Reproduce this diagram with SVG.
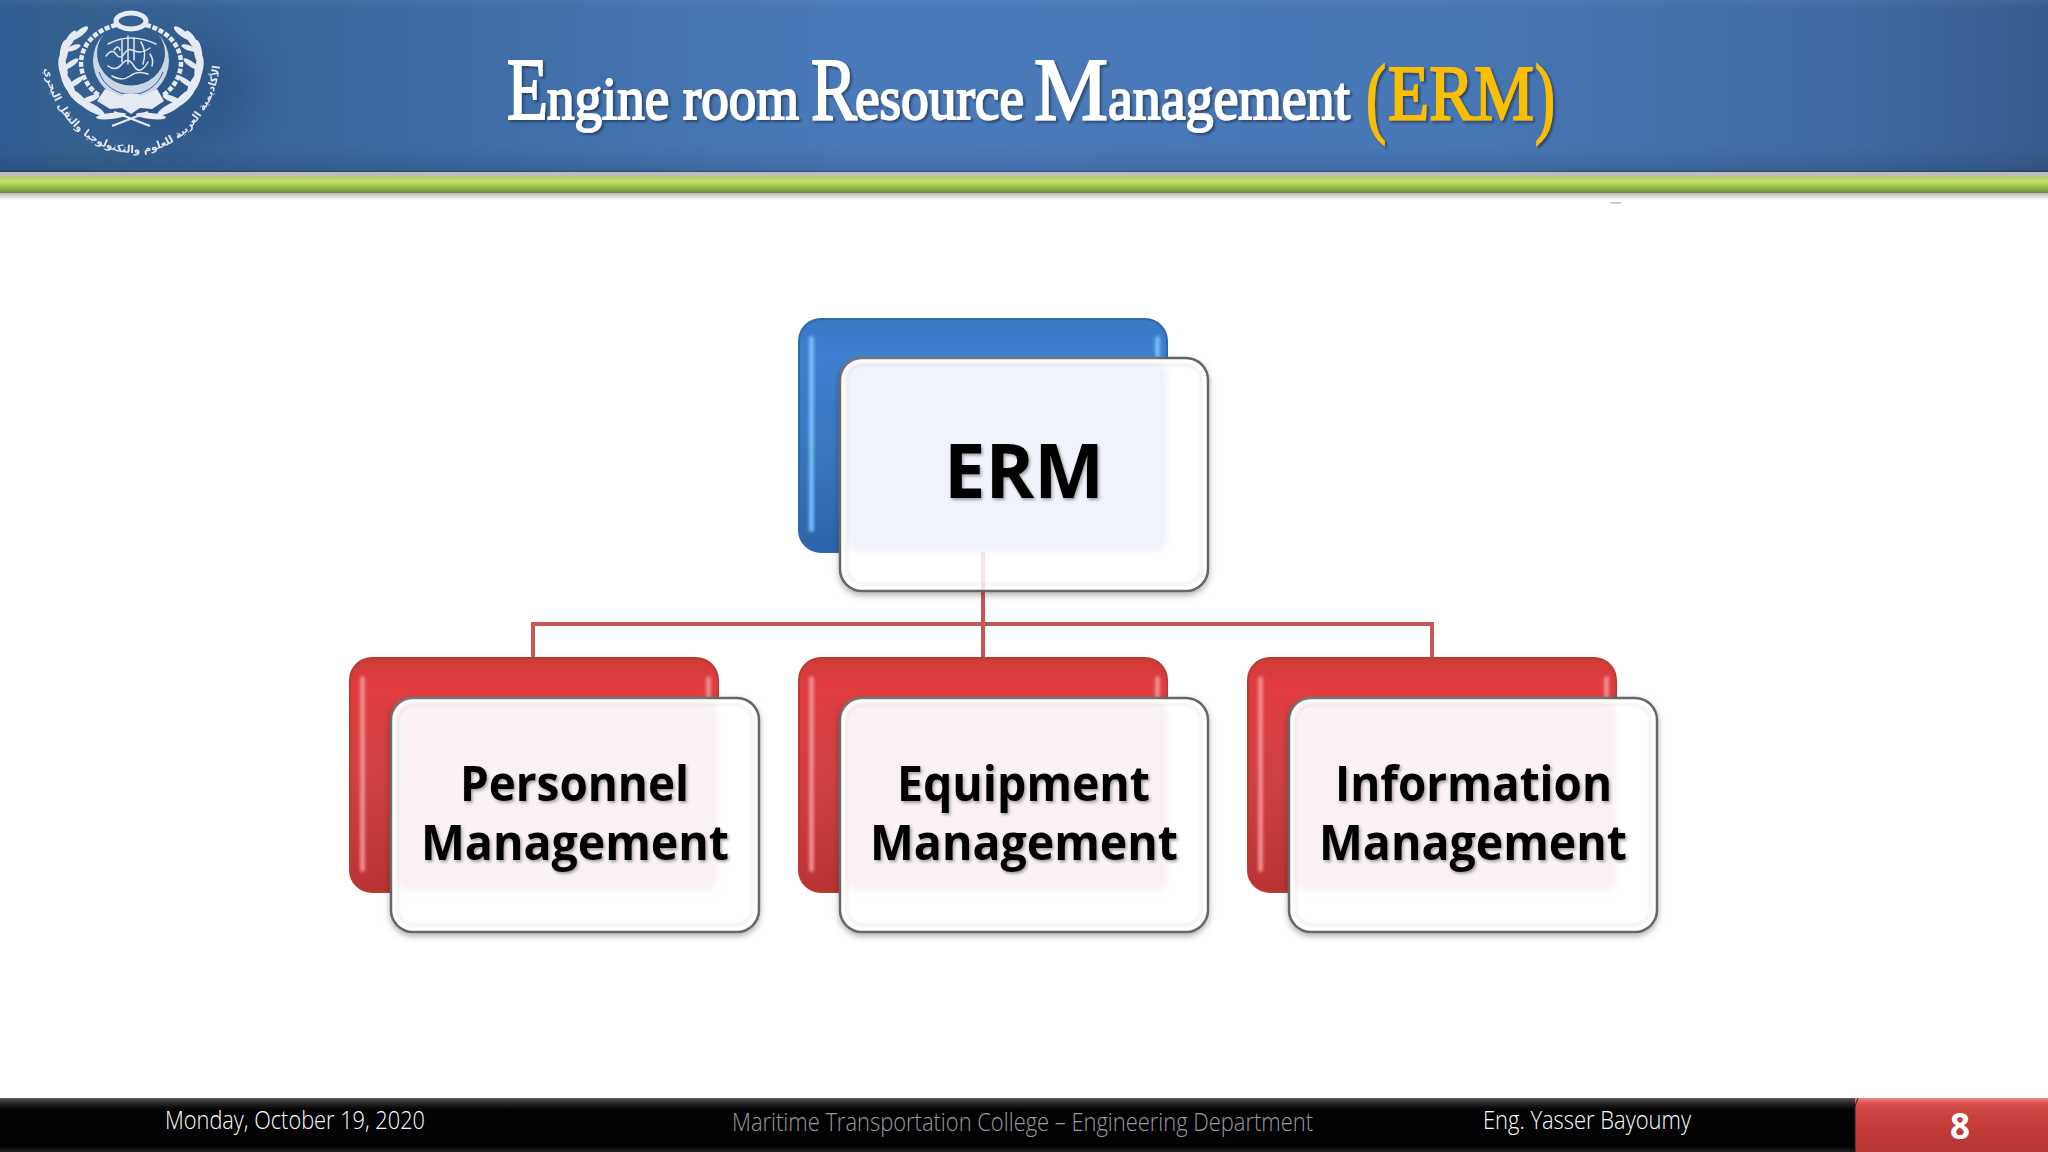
<svg xmlns="http://www.w3.org/2000/svg" xmlns:xlink="http://www.w3.org/1999/xlink" width="2048" height="1152" viewBox="0 0 2048 1152">
<defs>
<linearGradient id="hdrH" x1="0" y1="0" x2="1" y2="0"><stop offset="0" stop-color="#2f5c94"/><stop offset=".03" stop-color="#34608f"/><stop offset=".2" stop-color="#3c6aa3"/><stop offset=".42" stop-color="#4a7aba"/><stop offset=".7" stop-color="#4777b5"/><stop offset=".9" stop-color="#3f6aa3"/><stop offset="1" stop-color="#365c8e"/></linearGradient>
<linearGradient id="hdrV" x1="0" y1="0" x2="0" y2="1"><stop offset="0" stop-color="#fff" stop-opacity=".05"/><stop offset=".05" stop-color="#fff" stop-opacity="0"/><stop offset=".85" stop-color="#000" stop-opacity="0"/><stop offset=".98" stop-color="#000" stop-opacity=".1"/><stop offset="1" stop-color="#000" stop-opacity=".45"/></linearGradient>
<linearGradient id="green" x1="0" y1="0" x2="0" y2="1"><stop offset="0" stop-color="#acd252"/><stop offset=".25" stop-color="#c4e26c"/><stop offset=".6" stop-color="#9cc24a"/><stop offset="1" stop-color="#6c8a36"/></linearGradient>
<linearGradient id="gshadow" x1="0" y1="0" x2="0" y2="1"><stop offset="0" stop-color="#777" stop-opacity=".55"/><stop offset="1" stop-color="#777" stop-opacity="0"/></linearGradient>
<linearGradient id="foot" x1="0" y1="0" x2="0" y2="1"><stop offset="0" stop-color="#666"/><stop offset=".03" stop-color="#444"/><stop offset=".14" stop-color="#181818"/><stop offset=".22" stop-color="#030305"/><stop offset=".9" stop-color="#030305"/><stop offset="1" stop-color="#222"/></linearGradient>
<linearGradient id="pg" x1="0" y1="0" x2="0" y2="1"><stop offset="0" stop-color="#e88"/><stop offset=".1" stop-color="#d84f4c"/><stop offset=".35" stop-color="#c93f3d"/><stop offset="1" stop-color="#b83533"/></linearGradient>
<linearGradient id="blue" x1="0" y1="0" x2="0" y2="1"><stop offset="0" stop-color="#3a78c6"/><stop offset=".15" stop-color="#3f80d0"/><stop offset=".55" stop-color="#3a76bf"/><stop offset="1" stop-color="#2b64a8"/></linearGradient>
<linearGradient id="red" x1="0" y1="0" x2="0" y2="1"><stop offset="0" stop-color="#cf3b36"/><stop offset=".12" stop-color="#e03c3f"/><stop offset=".5" stop-color="#cf4042"/><stop offset="1" stop-color="#b93332"/></linearGradient>
<filter id="card" x="-10%" y="-10%" width="120%" height="125%"><feDropShadow dx="0" dy="3" stdDeviation="3" flood-color="#000" flood-opacity=".3"/></filter>
<filter id="ts" x="-10%" y="-20%" width="120%" height="140%"><feDropShadow dx="1.5" dy="2" stdDeviation="1.6" flood-color="#000" flood-opacity=".35"/></filter>
<filter id="ts2" x="-5%" y="-20%" width="110%" height="140%"><feDropShadow dx="2" dy="2" stdDeviation="1.2" flood-color="#123" flood-opacity=".55"/></filter>
<filter id="b1" x="-100%" y="-20%" width="300%" height="140%"><feGaussianBlur stdDeviation="1.5"/></filter>
<filter id="b2" x="-5%" y="-5%" width="110%" height="110%"><feGaussianBlur stdDeviation="3"/></filter>
<filter id="b14" x="-30%" y="-30%" width="160%" height="160%"><feGaussianBlur stdDeviation="18"/></filter>
<filter id="soft" x="-5%" y="-5%" width="110%" height="110%"><feGaussianBlur stdDeviation=".4"/></filter>
<path id="arc" d="M44 66 C50 114 90 153 134 153 C178 153 214 114 220 66"/>
<g id="wreath" fill="#e6ebf3">
<ellipse cx="111" cy="116" rx="15" ry="3" transform="rotate(-6 111 116)"/>
<ellipse cx="92" cy="108" rx="14" ry="4" transform="rotate(28 92 108)"/>
<ellipse cx="78" cy="98" rx="13" ry="4.2" transform="rotate(42 78 98)"/>
<ellipse cx="68" cy="84" rx="13" ry="4.2" transform="rotate(62 68 84)"/>
<ellipse cx="63" cy="68" rx="13" ry="4.2" transform="rotate(80 63 68)"/>
<ellipse cx="64" cy="52" rx="12" ry="4" transform="rotate(98 64 52)"/>
<ellipse cx="70" cy="40" rx="11" ry="3.6" transform="rotate(-58 70 40)"/>
<ellipse cx="80" cy="33" rx="10" ry="3.2" transform="rotate(-38 80 33)"/>
<ellipse cx="90" cy="99" rx="10" ry="3" transform="rotate(-20 90 99)"/>
<ellipse cx="76" cy="82" rx="9" ry="2.8" transform="rotate(-35 76 82)"/>
<ellipse cx="71" cy="64" rx="9" ry="2.8" transform="rotate(-35 71 64)"/>
<ellipse cx="73" cy="48" rx="8" ry="2.6" transform="rotate(-20 73 48)"/>
</g>
</defs>
<rect width="2048" height="1152" fill="#fff"/>

<g id="header">
<rect width="2048" height="173" fill="url(#hdrH)"/>
<ellipse cx="180" cy="90" rx="75" ry="60" fill="#1e3f70" opacity=".3" filter="url(#b14)"/>
<rect width="2048" height="173" fill="url(#hdrV)"/>
<rect y="172" width="2048" height="5" fill="#bcbcbc"/>
<rect y="177" width="2048" height="16" fill="url(#green)"/>
<rect y="193" width="2048" height="7" fill="url(#gshadow)"/>
<rect x="1610" y="202" width="11" height="1.5" fill="#bbb"/>
</g>

<g id="logo" filter="url(#soft)">
<ellipse cx="131" cy="21" rx="15" ry="8" fill="none" stroke="#e6ebf3" stroke-width="5"/>
<use xlink:href="#wreath"/>
<use xlink:href="#wreath" transform="translate(262 0) scale(-1 1)"/>
<path d="M116 25 C96 30 82 44 81 62 C81 76 88 88 100 96" fill="none" stroke="#e6ebf3" stroke-width="4.5" stroke-dasharray="5 1.8"/>
<path d="M146 25 C166 30 180 44 181 62 C181 76 174 88 162 96" fill="none" stroke="#e6ebf3" stroke-width="4.5" stroke-dasharray="5 1.8"/>
<path d="M104 34 A38 38 0 1 0 158 34 A34 32 0 1 1 104 34Z" fill="#e6ebf3" opacity=".85"/>
<path d="M99 72 A34 34 0 0 0 163 72" fill="none" stroke="#31609a" stroke-width="1"/>
<g fill="none" stroke="#dfe6f0" stroke-width="1.5" stroke-linecap="round">
<path d="M108 44 Q130 32 156 44"/>
<path d="M106 56 q6 -8 10 -2 t8 0 t8 -4 t8 2 t10 -4"/>
<path d="M108 66 q8 6 14 -2 t12 2 t14 -4"/>
<path d="M122 62 V40 M128 64 V36 M134 60 V38 M143 64 q4 -12 -2 -22"/>
<path d="M112 76 q10 6 18 0 t18 -2"/>
<path d="M114 50 q4 -6 6 0 M150 54 q4 6 2 12"/>
</g>
<path d="M97 101 L105 89 L123 97 L123 94 L139 94 L139 97 L157 89 L164 101 L152 109 L140 108 L131 114 L122 108 L110 109Z" fill="#e6ebf3"/>
<path d="M112 126 L148 112 M150 126 L114 112" stroke="#e6ebf3" stroke-width="2.2"/>
<text font-family="'DejaVu Sans',sans-serif" font-size="10.5" font-weight="700" fill="#e3e8f1" direction="rtl"><textPath xlink:href="#arc" startOffset="100%" text-anchor="start">الأكاديمية العربية للعلوم والتكنولوجيا والنقل البحري</textPath></text>
</g>

<g id="title" font-family="'Liberation Serif',serif" filter="url(#ts2)">
<text y="119" fill="#fff" stroke="#fff" stroke-width="2"><tspan x="507" font-size="88" textLength="41" lengthAdjust="spacingAndGlyphs">E</tspan><tspan x="547" font-size="62" textLength="252" lengthAdjust="spacingAndGlyphs">ngine room</tspan><tspan x="811" font-size="88" textLength="46" lengthAdjust="spacingAndGlyphs">R</tspan><tspan x="855" font-size="62" textLength="169" lengthAdjust="spacingAndGlyphs">esource</tspan><tspan x="1034" font-size="88" textLength="74" lengthAdjust="spacingAndGlyphs">M</tspan><tspan x="1108" font-size="62" textLength="242" lengthAdjust="spacingAndGlyphs">anagement</tspan></text>
<text y="119" fill="#fbbf00" stroke="#fbbf00" stroke-width="2"><tspan x="1366" y="126" font-size="88" textLength="20" lengthAdjust="spacingAndGlyphs">(</tspan><tspan x="1388" y="119" font-size="78" textLength="146" lengthAdjust="spacingAndGlyphs">ERM</tspan><tspan x="1535" y="126" font-size="88" textLength="20" lengthAdjust="spacingAndGlyphs">)</tspan></text>
</g>

<g id="connectors" fill="none" stroke="#cb5455" stroke-width="4">
<path d="M983 591V658"/>
<path d="M533 658V624H1432V658"/>
</g>

<style>
.bk{stroke-width:2}
.cd{fill:#fff;stroke:#666;stroke-width:2.5;filter:url(#card)}
.tb{fill:#f0f3f9;filter:url(#b2)}
.tr{fill:#faf2f2;filter:url(#b2)}
.rim2{fill:none;stroke:#000;stroke-width:1.5;opacity:.1;filter:url(#b1)}
.hb{fill:#74bcf8;filter:url(#b1)}
.hr{fill:#f08a8a;filter:url(#b1)}
.lbl{font-family:'Open Sans','Noto Sans',sans-serif;font-weight:700;fill:#050505;filter:url(#ts)}
</style>

<g id="node-erm">
<rect class="bk" x="799" y="319" width="368" height="233" rx="22" fill="url(#blue)" stroke="#2f68ad"/>
<rect class="hb" x="809" y="336" width="5" height="196" rx="2.5"/>
<rect class="hb" x="1155" y="336" width="5" height="24" rx="2.5"/>
<rect class="cd" x="840" y="358" width="368" height="233" rx="22"/>
<rect class="tb" x="846" y="362" width="321" height="190" rx="14"/>
<rect x="981" y="552" width="4" height="38" fill="#cb5455" opacity=".16"/>
<rect class="rim2" x="847" y="365" width="354" height="219" rx="16"/>
<text class="lbl" x="944" y="498" font-size="75" textLength="160" lengthAdjust="spacingAndGlyphs">ERM</text>
</g>

<g id="node-personnel">
<rect class="bk" x="350" y="658" width="368" height="234" rx="22" fill="url(#red)" stroke="#bb3a34"/>
<rect class="hr" x="360" y="676" width="5" height="196" rx="2.5"/>
<rect class="hr" x="706" y="676" width="5" height="24" rx="2.5"/>
<rect class="cd" x="391" y="698" width="368" height="234" rx="22"/>
<rect class="tr" x="397" y="702" width="321" height="190" rx="14"/>
<rect class="rim2" x="398" y="705" width="354" height="220" rx="16"/>
<text class="lbl" x="460" y="801" font-size="48" textLength="229" lengthAdjust="spacingAndGlyphs">Personnel</text>
<text class="lbl" x="421" y="860" font-size="48" textLength="308" lengthAdjust="spacingAndGlyphs">Management</text>
</g>

<g id="node-equipment">
<rect class="bk" x="799" y="658" width="368" height="234" rx="22" fill="url(#red)" stroke="#bb3a34"/>
<rect class="hr" x="809" y="676" width="5" height="196" rx="2.5"/>
<rect class="hr" x="1155" y="676" width="5" height="24" rx="2.5"/>
<rect class="cd" x="840" y="698" width="368" height="234" rx="22"/>
<rect class="tr" x="846" y="702" width="321" height="190" rx="14"/>
<rect class="rim2" x="847" y="705" width="354" height="220" rx="16"/>
<text class="lbl" x="897" y="801" font-size="48" textLength="253" lengthAdjust="spacingAndGlyphs">Equipment</text>
<text class="lbl" x="870" y="860" font-size="48" textLength="308" lengthAdjust="spacingAndGlyphs">Management</text>
</g>

<g id="node-information">
<rect class="bk" x="1248" y="658" width="368" height="234" rx="22" fill="url(#red)" stroke="#bb3a34"/>
<rect class="hr" x="1258" y="676" width="5" height="196" rx="2.5"/>
<rect class="hr" x="1604" y="676" width="5" height="24" rx="2.5"/>
<rect class="cd" x="1289" y="698" width="368" height="234" rx="22"/>
<rect class="tr" x="1295" y="702" width="321" height="190" rx="14"/>
<rect class="rim2" x="1296" y="705" width="354" height="220" rx="16"/>
<text class="lbl" x="1335" y="801" font-size="48" textLength="277" lengthAdjust="spacingAndGlyphs">Information</text>
<text class="lbl" x="1319" y="860" font-size="48" textLength="308" lengthAdjust="spacingAndGlyphs">Management</text>
</g>

<g id="footer">
<rect y="1098" width="2048" height="54" fill="url(#foot)"/>
<rect x="1855" y="1098" width="193" height="54" fill="url(#pg)"/>
<path d="M1855 1152V1106L1858 1098" fill="none" stroke="#222" stroke-width="1"/>
<g font-family="'Open Sans','Noto Sans',sans-serif" font-weight="300">
<text x="165" y="1129" font-size="25" fill="#fff" textLength="260" lengthAdjust="spacingAndGlyphs">Monday, October 19, 2020</text>
<text x="732" y="1131" font-size="25" fill="#9a9a9a" textLength="581" lengthAdjust="spacingAndGlyphs">Maritime Transportation College – Engineering Department</text>
<text x="1483" y="1129" font-size="25" fill="#fff" textLength="208" lengthAdjust="spacingAndGlyphs">Eng. Yasser Bayoumy</text>
</g>
<text x="1960" y="1139" font-family="'Open Sans','Noto Sans',sans-serif" font-weight="700" font-size="35" fill="#fff" text-anchor="middle">8</text>
</g>
</svg>
